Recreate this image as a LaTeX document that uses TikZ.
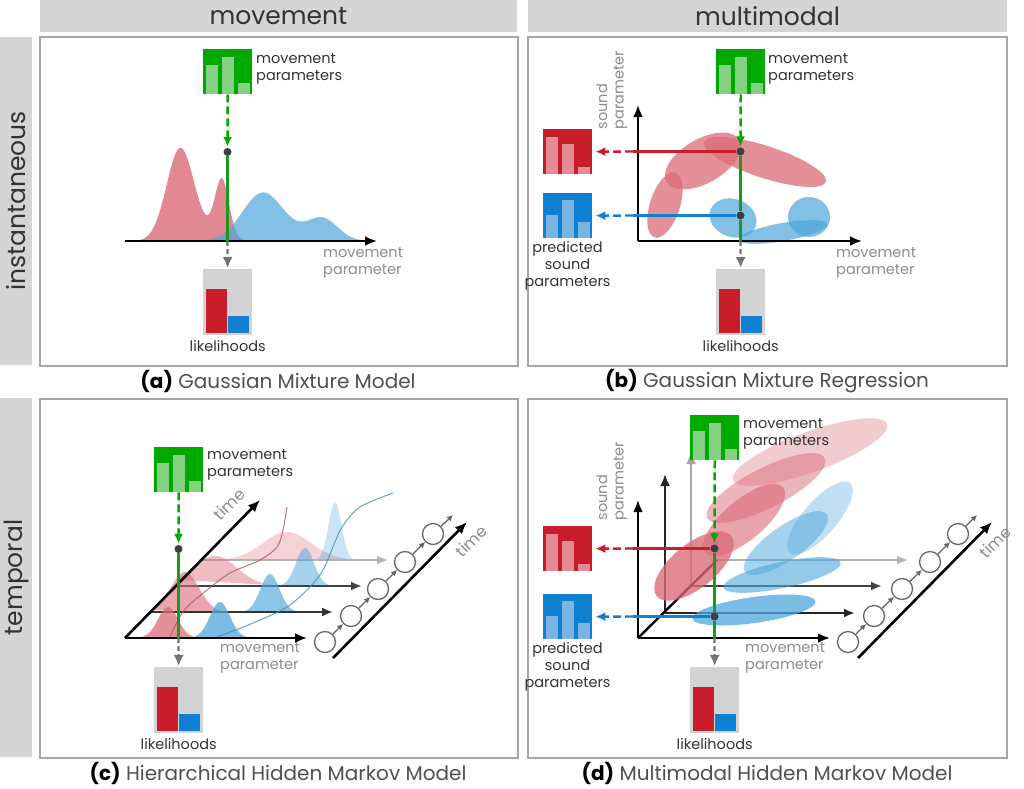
\documentclass[tikz,border=0pt]{standalone}
\usepackage{fontspec}
\setmainfont{Poppins}
\usetikzlibrary{arrows.meta,calc}
\definecolor{hdr}{HTML}{D5D5D5}
\definecolor{framec}{HTML}{A6A6A6}
\definecolor{txt}{HTML}{333333}
\definecolor{gtxt}{HTML}{8C8C8C}
\definecolor{captxt}{HTML}{505050}
\definecolor{mgreen}{HTML}{00A900}
\definecolor{lgreen}{HTML}{84D184}
\definecolor{mred}{HTML}{C81D2B}
\definecolor{lred}{HTML}{E38A93}
\definecolor{mblue}{HTML}{0F80D2}
\definecolor{lblue}{HTML}{7BB6E3}
\definecolor{dred}{HTML}{DB6B78}
\definecolor{dblue}{HTML}{4DA6DC}
\definecolor{lboxc}{HTML}{D3D3D3}
\definecolor{dotc}{HTML}{3E3E44}
\definecolor{gline}{HTML}{1A9A1A}
\tikzset{
  declare function={gs(\x,\m,\s)=exp(-0.5*((\x-\m)/\s)*((\x-\m)/\s));},
  hdrbox/.style={fill=hdr, inner sep=0pt, text=txt, font=\fontsize{25}{28}\selectfont},
  panel/.style={draw=framec, line width=1.2pt, fill=white, inner sep=0pt},
  lbl/.style={font=\fontsize{14.5}{17}\selectfont, text=txt, align=left, inner sep=0pt},
  glbl/.style={font=\fontsize{14.5}{16.5}\selectfont, text=gtxt, align=left, inner sep=0pt},
  timelbl/.style={font=\fontsize{16}{18}\selectfont, text=gtxt, rotate=45, inner sep=0pt},
  captext/.style={font=\fontsize{20}{23}\selectfont, text=captxt, inner sep=0pt},
  axis/.style={line width=2.6pt, -{Latex[length=12pt,width=10pt]}},
  slicearrow/.style={line width=2.4pt, -{Latex[length=11pt,width=9pt]}},
  gdash/.style={mgreen, line width=2.4pt, dash pattern=on 8pt off 4pt, -{Latex[length=10pt,width=9pt]}, shorten >=1pt},
  gsolid/.style={gline, line width=2.6pt},
  graydash/.style={gray!90!black, line width=2.2pt, dash pattern=on 5pt off 3pt, -{Latex[length=11pt,width=10pt]}, shorten >=1pt},
  dotn/.style={circle, fill=dotc, inner sep=0pt, minimum size=8pt},
  statec/.style={circle, draw=gray!80!black, fill=white, line width=1.3pt, minimum size=21pt, inner sep=0pt},
  stepar/.style={gray!80!black, line width=1.3pt, -{Latex[length=6pt,width=6pt]}},
  redline/.style={mred, line width=2.4pt},
  reddash/.style={mred, line width=2.4pt, dash pattern=on 8pt off 4pt, -{Latex[length=10pt,width=9pt]}, shorten >=3pt},
  blueline/.style={mblue, line width=2.4pt},
  bluedash/.style={mblue, line width=2.4pt, dash pattern=on 8pt off 4pt, -{Latex[length=10pt,width=9pt]}, shorten >=3pt},
  redthin/.style={draw=dred!80!black, line width=1pt, opacity=.8},
  bluethin/.style={draw=dblue!85!black, line width=1pt, opacity=.8},
}
\newcommand\mkbarbox[8]{%
  \node[fill=#4, minimum width=49pt, minimum height=45pt, inner sep=0pt, anchor=north west] (#1) at (#2,#3) {};
  \fill[#5] ($(#1.south west)+(3,0)$) rectangle ++(12,-#6);
  \fill[#5] ($(#1.south west)+(19,0)$) rectangle ++(12,-#7);
  \fill[#5] ($(#1.south west)+(35,0)$) rectangle ++(12,-#8);
}
\newcommand\mklikebox[3]{%
  \node[fill=lboxc, minimum width=49pt, minimum height=66pt, inner sep=0pt, anchor=north west] (#1) at (#2,#3) {};
  \fill[mred] ($(#1.south west)+(3,-2)$) rectangle ++(21,-44);
  \fill[mblue] ($(#1.south west)+(25,-2)$) rectangle ++(21,-17);
  \node[lbl, anchor=north] (#1t) at ($(#1.south)+(0,5)$) {likelihoods};
}
\begin{document}
\begin{tikzpicture}[x=1pt,y=-1pt]
\useasboundingbox (0,0) rectangle (1024,788);
\fill[white] (0,0) rectangle (1024,788);
% headers
\node[hdrbox, minimum width=477pt, minimum height=32pt] (hmov) at (278.5,16) {movement};
\node[hdrbox, minimum width=479pt, minimum height=32pt] (hmul) at (767.5,16) {multimodal};
\node[hdrbox, minimum width=328pt, minimum height=32pt, rotate=90] (hins) at (16,201) {instantaneous};
\node[hdrbox, minimum width=359pt, minimum height=32pt, rotate=90] (htmp) at (16,577.5) {temporal};
% panels
\node[panel, minimum width=478pt, minimum height=329pt] (pa) at (279,201.5) {};
\node[panel, minimum width=479pt, minimum height=329pt] (pb) at (767.5,201.5) {};
\node[panel, minimum width=478pt, minimum height=359pt] (pc) at (279,578.5) {};
\node[panel, minimum width=479pt, minimum height=359pt] (pd) at (767.5,578.5) {};
% captions
\node[captext] (ca) at (278,381) {\textcolor{black}{\textbf{(a)}} Gaussian Mixture Model};
\node[captext] (cb) at (767,381) {\textcolor{black}{\textbf{(b)}} Gaussian Mixture Regression};
\node[captext] (cc) at (278,773) {\textcolor{black}{\textbf{(c)}} Hierarchical Hidden Markov Model};
\node[captext] (cd) at (767,773) {\textcolor{black}{\textbf{(d)}} Multimodal Hidden Markov Model};

% ================= panel (a)
\fill[dred, opacity=0.8] plot[domain=126:258, samples=110] (\x, {241-90*gs(\x,180,13.5)-57*gs(\x,222,7)-8*gs(\x,205,18)}) -- cycle;
\fill[dblue, opacity=0.7] plot[domain=195:372, samples=100] (\x, {241-46*gs(\x,262,20)-20*gs(\x,323,15)-6*gs(\x,295,25)}) -- cycle;
\coordinate (oa) at (125,241);
\coordinate (xa) at (377,241);
\draw[axis] (oa) -- (xa);
\node[glbl, anchor=west] (mpa) at (323,263) {movement\\parameter};
\mkbarbox{ga}{203}{49}{mgreen}{lgreen}{29}{37}{11}
\node[lbl, anchor=west] (gat) at (256,68.5) {movement\\parameters};
\node[dotn] (da) at (227.5,152) {};
\coordinate (aa) at (227.5,241);
\draw[gdash] (ga.south) -- (da);
\draw[gsolid] (da) -- (aa);
\mklikebox{lka}{203}{269}
\draw[graydash] (aa) -- (lka.north);

% ================= panel (b)
\fill[dred, opacity=.75] (765,162) ellipse [x radius=64pt, y radius=16pt, rotate=-18];
\fill[dred, opacity=.75] (703,161) ellipse [x radius=42pt, y radius=22pt, rotate=30];
\fill[dred, opacity=.75] (665,205) ellipse [x radius=34pt, y radius=15pt, rotate=72];
\fill[dblue, opacity=.7] (733,218) ellipse [x radius=24pt, y radius=19pt, rotate=-20];
\fill[dblue, opacity=.7] (809,217) ellipse [x radius=21pt, y radius=20pt];
\fill[dblue, opacity=.7] (783,232) ellipse [x radius=45pt, y radius=9pt, rotate=10];
\coordinate (ob) at (638,241);
\coordinate (xb) at (862,241);
\coordinate (yb) at (638,105);
\draw[axis] (ob) -- (xb);
\draw[axis] (ob) -- (yb);
\node[glbl, anchor=west] (mpb) at (836,263) {movement\\parameter};
\node[glbl, rotate=90] (spb) at (612,90) {sound\\parameter};
\mkbarbox{gb}{716}{49}{mgreen}{lgreen}{29}{37}{11}
\node[lbl, anchor=west] (gbt) at (768,68.5) {movement\\parameters};
\mkbarbox{rbb}{543}{129}{mred}{lred}{37}{30}{7}
\mkbarbox{bbb}{543}{193}{mblue}{lblue}{23}{38}{16}
\node[lbl, align=center, anchor=north] (psb) at (567.5,241) {predicted\\sound\\parameters};
\node[dotn] (db1) at (740.5,151.5) {};
\node[dotn] (db2) at (740.5,215.5) {};
\coordinate (ab) at (740.5,241);
\coordinate (rb) at (633,151.5);
\coordinate (bb) at (633,215.5);
\draw[redline] (db1) -- (rb);
\draw[reddash] (rb) -- (rbb.east);
\draw[blueline] (db2) -- (bb);
\draw[bluedash] (bb) -- (bbb.east);
\draw[gdash] (gb.south) -- (db1);
\draw[gsolid] (db1) -- (db2);
\draw[gsolid] (db2) -- (ab);
\mklikebox{lkb}{716}{269}
\draw[graydash] (ab) -- (lkb.north);

% ================= panel (c)
\coordinate (oc) at (125,638);
\coordinate (xc) at (307,638);
\coordinate (tc) at (260,500);
\coordinate (s1c) at (150,612); \coordinate (e1c) at (333,612);
\coordinate (s2c) at (176,586); \coordinate (e2c) at (362,586);
\coordinate (s3c) at (201,560); \coordinate (e3c) at (388,560);
% slice 3
\fill[dred, opacity=.3] plot[domain=205:360, samples=60] (\x, {560-28*gs(\x,287,24)}) -- cycle;
\fill[dblue, opacity=.3] plot[domain=312:360, samples=50] (\x, {560-57*gs(\x,335,6.5)}) -- cycle;
\draw[slicearrow, color=gray!60] (s3c) -- (e3c);
% slice 2
\fill[dred, opacity=.45] plot[domain=176:290, samples=60] (\x, {586-30*gs(\x,215,22)}) -- cycle;
\fill[dblue, opacity=.5] plot[domain=276:334, samples=50] (\x, {586-38*gs(\x,305,9)}) -- cycle;
\draw[slicearrow, color=gray!50!black] (s2c) -- (e2c);
% slice 1
\fill[dred, opacity=.6] plot[domain=150:240, samples=60] (\x, {612-40*gs(\x,185,14)}) -- cycle;
\fill[dblue, opacity=.65] plot[domain=240:300, samples=50] (\x, {612-38*gs(\x,270,9.5)}) -- cycle;
\draw[slicearrow, color=black!80] (s1c) -- (e1c);
% slice 0
\fill[dred, opacity=.75] plot[domain=134:202, samples=50] (\x, {638-31*gs(\x,168,10)}) -- cycle;
\fill[dblue, opacity=.75] plot[domain=188:252, samples=50] (\x, {638-36*gs(\x,220,10)}) -- cycle;
\draw[redthin] plot[smooth] coordinates {(170,637) (178,620) (187,607) (207,590) (230,573) (260,560) (277,547) (283,530) (287,507)};
\draw[bluethin] plot[smooth] coordinates {(217,637) (253,623) (287,607) (310,587) (323,570) (333,547) (342,527) (360,507) (393,493)};
\draw[axis] (oc) -- (xc);
\draw[axis] (oc) -- (tc);
\node[timelbl] (tlc1) at (229,504) {time};
\node[glbl, anchor=west] (mpc) at (220,658) {movement\\parameter};
% states
\node[statec] (c1) at (325,642) {};
\node[statec] (c2) at (351,616) {};
\node[statec] (c3) at (378,589) {};
\node[statec] (c4) at (405,562) {};
\node[statec] (c5) at (433,534) {};
\coordinate (c6) at (453,515);
\draw[stepar] (c1) -- (c2);
\draw[stepar] (c2) -- (c3);
\draw[stepar] (c3) -- (c4);
\draw[stepar] (c4) -- (c5);
\draw[stepar] (c5) -- (c6);
\coordinate (rtc0) at (333,658);
\coordinate (rtc1) at (467,522);
\draw[axis] (rtc0) -- (rtc1);
\node[timelbl] (tlc2) at (471,541) {time};
% green
\mkbarbox{gc}{154}{447}{mgreen}{lgreen}{29}{37}{11}
\node[lbl, anchor=west] (gct) at (207,464.5) {movement\\parameters};
\node[dotn] (dc) at (178.5,549) {};
\coordinate (ac) at (178.5,638);
\draw[gdash] (gc.south) -- (dc);
\draw[gsolid] (dc) -- (ac);
\mklikebox{lkc}{154}{667}
\draw[graydash] (ac) -- (lkc.north);

% ================= panel (d)
\coordinate (od) at (638,638);
\coordinate (xd) at (830,638);
\coordinate (yd) at (638,500);
\coordinate (v2b) at (665,613); \coordinate (v2t) at (665,474);
\coordinate (v3b) at (691,586); \coordinate (v3t) at (691,452);
\coordinate (s3d) at (717,560); \coordinate (e3d) at (908,560);
\coordinate (e2d) at (882,586); \coordinate (e1d) at (855,613);
\draw[slicearrow, color=gray!60] (s3d) -- (e3d);
\draw[axis, color=gray!70, line width=2.2pt] (v3b) -- (v3t);
\draw[slicearrow, color=gray!50!black] (v3b) -- (e2d);
\draw[axis, color=black!85, line width=2.2pt] (v2b) -- (v2t);
\draw[slicearrow, color=black!85] (v2b) -- (e1d);
\draw[line width=2.4pt] (od) -- (s3d);
% ellipses
\fill[dred, opacity=.35] (810,452) ellipse [x radius=82pt, y radius=20pt, rotate=20];
\fill[dblue, opacity=.35] (820,518) ellipse [x radius=46pt, y radius=17pt, rotate=49];
\fill[dred, opacity=.5] (766,488) ellipse [x radius=66pt, y radius=20pt, rotate=27];
\fill[dblue, opacity=.5] (786,543) ellipse [x radius=50pt, y radius=17pt, rotate=35];
\fill[dred, opacity=.62] (744,520) ellipse [x radius=51pt, y radius=20pt, rotate=40];
\fill[dblue, opacity=.6] (782,575) ellipse [x radius=60pt, y radius=13pt, rotate=12];
\fill[dred, opacity=.78] (694,566) ellipse [x radius=48pt, y radius=22pt, rotate=39];
\fill[dblue, opacity=.75] (754,610) ellipse [x radius=62pt, y radius=13pt, rotate=8];
\draw[axis] (od) -- (xd);
\draw[axis] (od) -- (yd);
\node[glbl, anchor=west] (mpd) at (745,658) {movement\\parameter};
\node[glbl, rotate=90] (spd) at (612,481) {sound\\parameter};
% states
\node[statec] (d1) at (848,642) {};
\node[statec] (d2) at (874,616) {};
\node[statec] (d3) at (902,589) {};
\node[statec] (d4) at (930,562) {};
\node[statec] (d5) at (958,534) {};
\coordinate (d6) at (977,515);
\draw[stepar] (d1) -- (d2);
\draw[stepar] (d2) -- (d3);
\draw[stepar] (d3) -- (d4);
\draw[stepar] (d4) -- (d5);
\draw[stepar] (d5) -- (d6);
\coordinate (rtd0) at (858,658);
\coordinate (rtd1) at (992,522);
\draw[axis] (rtd0) -- (rtd1);
\node[timelbl] (tld) at (995,542) {time};
% boxes
\mkbarbox{gd}{690}{415}{mgreen}{lgreen}{29}{37}{11}
\node[lbl, anchor=west] (gdt) at (743,434) {movement\\parameters};
\mkbarbox{rbd}{543}{526}{mred}{lred}{37}{30}{7}
\mkbarbox{bbd}{543}{594}{mblue}{lblue}{23}{38}{16}
\node[lbl, align=center, anchor=north] (psd) at (567.5,642) {predicted\\sound\\parameters};
\node[dotn] (dd1) at (714.5,548.5) {};
\node[dotn] (dd2) at (714.5,616.5) {};
\coordinate (ad) at (714.5,638);
\coordinate (rd) at (633,548.5);
\coordinate (bd) at (633,616.5);
\draw[redline] (dd1) -- (rd);
\draw[reddash] (rd) -- (rbd.east);
\draw[blueline] (dd2) -- (bd);
\draw[bluedash] (bd) -- (bbd.east);
\draw[gdash] (gd.south) -- (dd1);
\draw[gsolid] (dd1) -- (dd2);
\draw[gsolid] (dd2) -- (ad);
\mklikebox{lkd}{690}{667}
\draw[graydash] (ad) -- (lkd.north);
\end{tikzpicture}
\end{document}
